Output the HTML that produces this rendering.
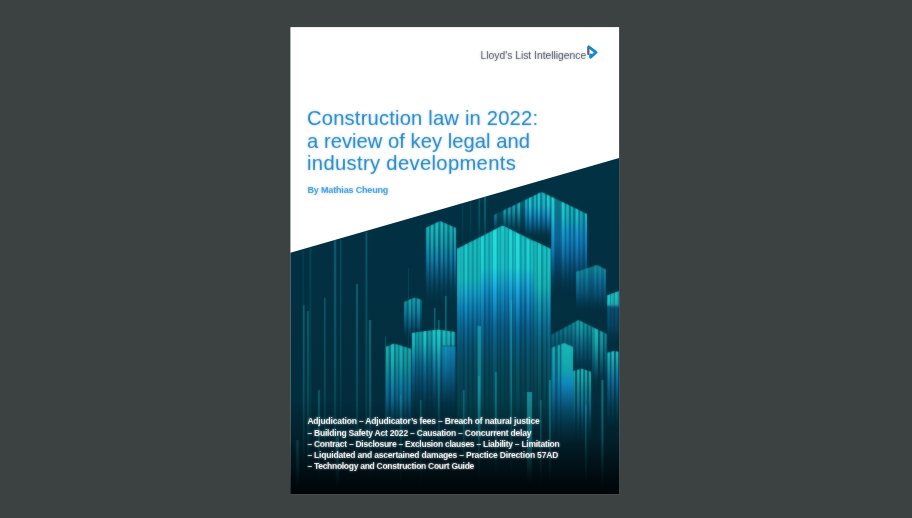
<!DOCTYPE html>
<html lang="en"><head><meta charset="utf-8"><title>Construction law in 2022</title>
<style>
html,body{margin:0;padding:0}
body{width:912px;height:518px;overflow:hidden;background:#3c4141;position:relative;font-family:"Liberation Sans",sans-serif}
.t{position:absolute;white-space:nowrap;line-height:1;margin:0;filter:url(#tsoft)}
.logo{left:480.6px;top:51px;font-size:10.3px;color:#55586a}
.title{left:307px;font-size:20.2px;color:#2f8dc9;font-weight:normal}
.by{left:307.5px;top:186px;font-size:9px;font-weight:bold;color:#469fda;letter-spacing:-0.17px}
.kw{left:307.4px;font-size:8.5px;font-weight:bold;color:#f4f7f8}
</style></head><body>
<svg width="912" height="518" viewBox="0 0 912 518" style="position:absolute;left:0;top:0"><defs><linearGradient id="g1" gradientUnits="userSpaceOnUse" x1="0" y1="158" x2="0" y2="494"><stop offset="0.0" stop-color="#013144"/><stop offset="0.423" stop-color="#022f41"/><stop offset="0.72" stop-color="#032d3d"/><stop offset="0.839" stop-color="#032531"/><stop offset="0.929" stop-color="#021920"/><stop offset="1.0" stop-color="#020b0f"/></linearGradient><clipPath id="dark"><polygon points="290.4,252.8 619.1,158 619.1,494.3 290.4,494.3"/></clipPath><filter id="soft" x="-5%" y="-5%" width="110%" height="110%" color-interpolation-filters="sRGB"><feGaussianBlur in="SourceGraphic" stdDeviation="1" result="b"/><feComposite in="SourceGraphic" in2="b" operator="arithmetic" k1="0" k2="0.6" k3="0.4" k4="0"/></filter><filter id="tsoft" x="-5%" y="-20%" width="110%" height="140%" color-interpolation-filters="sRGB"><feGaussianBlur in="SourceGraphic" stdDeviation="1" result="b"/><feComposite in="SourceGraphic" in2="b" operator="arithmetic" k1="0" k2="0.7" k3="0.5" k4="0"/></filter><linearGradient id="g2" gradientUnits="userSpaceOnUse" x1="0" y1="250" x2="0" y2="480"><stop offset="0" stop-color="#148c98" stop-opacity="0.18"/><stop offset="0.5" stop-color="#148c98" stop-opacity="0.135"/><stop offset="1" stop-color="#148c98" stop-opacity="0"/></linearGradient><linearGradient id="g3" gradientUnits="userSpaceOnUse" x1="0" y1="248" x2="0" y2="485"><stop offset="0" stop-color="#148c98" stop-opacity="0.25"/><stop offset="0.5" stop-color="#148c98" stop-opacity="0.1875"/><stop offset="1" stop-color="#148c98" stop-opacity="0"/></linearGradient><linearGradient id="g4" gradientUnits="userSpaceOnUse" x1="0" y1="240" x2="0" y2="485"><stop offset="0" stop-color="#148c98" stop-opacity="0.55"/><stop offset="0.5" stop-color="#148c98" stop-opacity="0.41250000000000003"/><stop offset="1" stop-color="#148c98" stop-opacity="0"/></linearGradient><linearGradient id="g5" gradientUnits="userSpaceOnUse" x1="0" y1="240" x2="0" y2="470"><stop offset="0" stop-color="#148c98" stop-opacity="0.4"/><stop offset="0.5" stop-color="#148c98" stop-opacity="0.30000000000000004"/><stop offset="1" stop-color="#148c98" stop-opacity="0"/></linearGradient><linearGradient id="g6" gradientUnits="userSpaceOnUse" x1="0" y1="232" x2="0" y2="485"><stop offset="0" stop-color="#148c98" stop-opacity="0.5"/><stop offset="0.5" stop-color="#148c98" stop-opacity="0.375"/><stop offset="1" stop-color="#148c98" stop-opacity="0"/></linearGradient><linearGradient id="g7" gradientUnits="userSpaceOnUse" x1="0" y1="190" x2="0" y2="250"><stop offset="0" stop-color="#148c98" stop-opacity="0.55"/><stop offset="0.5" stop-color="#148c98" stop-opacity="0.41250000000000003"/><stop offset="1" stop-color="#148c98" stop-opacity="0"/></linearGradient><linearGradient id="g8" gradientUnits="userSpaceOnUse" x1="0" y1="190" x2="0" y2="250"><stop offset="0" stop-color="#148c98" stop-opacity="0.6"/><stop offset="0.5" stop-color="#148c98" stop-opacity="0.44999999999999996"/><stop offset="1" stop-color="#148c98" stop-opacity="0"/></linearGradient><linearGradient id="g9" gradientUnits="userSpaceOnUse" x1="0" y1="195" x2="0" y2="250"><stop offset="0" stop-color="#148c98" stop-opacity="0.25"/><stop offset="0.5" stop-color="#148c98" stop-opacity="0.1875"/><stop offset="1" stop-color="#148c98" stop-opacity="0"/></linearGradient><linearGradient id="g10" gradientUnits="userSpaceOnUse" x1="0" y1="198" x2="0" y2="250"><stop offset="0" stop-color="#148c98" stop-opacity="0.25"/><stop offset="0.5" stop-color="#148c98" stop-opacity="0.1875"/><stop offset="1" stop-color="#148c98" stop-opacity="0"/></linearGradient><linearGradient id="g11" gradientUnits="userSpaceOnUse" x1="0" y1="268" x2="0" y2="400"><stop offset="0" stop-color="#148c98" stop-opacity="0.3"/><stop offset="0.5" stop-color="#148c98" stop-opacity="0.22499999999999998"/><stop offset="1" stop-color="#148c98" stop-opacity="0"/></linearGradient><linearGradient id="g12" gradientUnits="userSpaceOnUse" x1="0" y1="305" x2="0" y2="475"><stop offset="0" stop-color="#18969e" stop-opacity="0.5"/><stop offset="0.5" stop-color="#18969e" stop-opacity="0.375"/><stop offset="1" stop-color="#18969e" stop-opacity="0"/></linearGradient><linearGradient id="g13" gradientUnits="userSpaceOnUse" x1="0" y1="311" x2="0" y2="475"><stop offset="0" stop-color="#18969e" stop-opacity="0.45"/><stop offset="0.5" stop-color="#18969e" stop-opacity="0.3375"/><stop offset="1" stop-color="#18969e" stop-opacity="0"/></linearGradient><linearGradient id="g14" gradientUnits="userSpaceOnUse" x1="0" y1="298" x2="0" y2="475"><stop offset="0" stop-color="#18969e" stop-opacity="0.45"/><stop offset="0.5" stop-color="#18969e" stop-opacity="0.3375"/><stop offset="1" stop-color="#18969e" stop-opacity="0"/></linearGradient><linearGradient id="g15" gradientUnits="userSpaceOnUse" x1="0" y1="284" x2="0" y2="475"><stop offset="0" stop-color="#18969e" stop-opacity="0.5"/><stop offset="0.5" stop-color="#18969e" stop-opacity="0.375"/><stop offset="1" stop-color="#18969e" stop-opacity="0"/></linearGradient><linearGradient id="g16" gradientUnits="userSpaceOnUse" x1="0" y1="320" x2="0" y2="485"><stop offset="0" stop-color="#18969e" stop-opacity="0.55"/><stop offset="0.5" stop-color="#18969e" stop-opacity="0.41250000000000003"/><stop offset="1" stop-color="#18969e" stop-opacity="0"/></linearGradient><linearGradient id="g17" gradientUnits="userSpaceOnUse" x1="0" y1="336" x2="0" y2="475"><stop offset="0" stop-color="#18969e" stop-opacity="0.4"/><stop offset="0.5" stop-color="#18969e" stop-opacity="0.30000000000000004"/><stop offset="1" stop-color="#18969e" stop-opacity="0"/></linearGradient><linearGradient id="g18" gradientUnits="userSpaceOnUse" x1="0" y1="390" x2="0" y2="485"><stop offset="0" stop-color="#18969e" stop-opacity="0.5"/><stop offset="0.5" stop-color="#18969e" stop-opacity="0.375"/><stop offset="1" stop-color="#18969e" stop-opacity="0"/></linearGradient><linearGradient id="g19" gradientUnits="userSpaceOnUse" x1="0" y1="437" x2="0" y2="494"><stop offset="0" stop-color="#18969e" stop-opacity="0.4"/><stop offset="0.5" stop-color="#18969e" stop-opacity="0.30000000000000004"/><stop offset="1" stop-color="#18969e" stop-opacity="0"/></linearGradient><linearGradient id="g20" gradientUnits="userSpaceOnUse" x1="0" y1="440" x2="0" y2="494"><stop offset="0" stop-color="#18969e" stop-opacity="0.3"/><stop offset="0.5" stop-color="#18969e" stop-opacity="0.22499999999999998"/><stop offset="1" stop-color="#18969e" stop-opacity="0"/></linearGradient><clipPath id="c21"><polygon points="494,250 494,215 525,200 525,250"/></clipPath><linearGradient id="g22" gradientUnits="userSpaceOnUse" x1="0" y1="200" x2="0" y2="250"><stop offset="0.0" stop-color="#0b6474"/><stop offset="0.24" stop-color="#064a5e"/><stop offset="0.6" stop-color="#02303f"/><stop offset="1.0" stop-color="#02303f" stop-opacity="0"/></linearGradient><linearGradient id="g23" gradientUnits="userSpaceOnUse" x1="0" y1="200" x2="0" y2="250"><stop offset="0.0" stop-color="#1ed0d0"/><stop offset="0.22" stop-color="#19acb8"/><stop offset="0.46" stop-color="#0d6a88" stop-opacity="0.8"/><stop offset="0.76" stop-color="#02303f" stop-opacity="0"/><stop offset="1.0" stop-color="#02303f" stop-opacity="0"/></linearGradient><clipPath id="c24"><polygon points="525,262 525,200 541.5,192 551,196.5 551,262"/></clipPath><linearGradient id="g25" gradientUnits="userSpaceOnUse" x1="0" y1="192" x2="0" y2="262"><stop offset="0.0" stop-color="#0e7c88"/><stop offset="0.229" stop-color="#0b6a8c"/><stop offset="0.429" stop-color="#064868"/><stop offset="0.629" stop-color="#02303f"/><stop offset="1.0" stop-color="#02303f"/></linearGradient><linearGradient id="g26" gradientUnits="userSpaceOnUse" x1="0" y1="192" x2="0" y2="262"><stop offset="0.0" stop-color="#20dcd8"/><stop offset="0.186" stop-color="#1fd4dc"/><stop offset="0.329" stop-color="#1aa0dc"/><stop offset="0.486" stop-color="#0f6fa4" stop-opacity="0.8"/><stop offset="0.657" stop-color="#02303f" stop-opacity="0"/><stop offset="1.0" stop-color="#02303f" stop-opacity="0"/></linearGradient><clipPath id="c27"><polygon points="551,310 551,196.5 587,214 587,310"/></clipPath><linearGradient id="g28" gradientUnits="userSpaceOnUse" x1="0" y1="196.5" x2="0" y2="310"><stop offset="-0.004" stop-color="#0e7884"/><stop offset="0.189" stop-color="#0c6c88"/><stop offset="0.383" stop-color="#0a5f90"/><stop offset="0.604" stop-color="#064468" stop-opacity="0.9"/><stop offset="0.868" stop-color="#02303f" stop-opacity="0"/><stop offset="1.0" stop-color="#02303f" stop-opacity="0"/></linearGradient><linearGradient id="g29" gradientUnits="userSpaceOnUse" x1="0" y1="196.5" x2="0" y2="310"><stop offset="-0.004" stop-color="#20dcd8"/><stop offset="0.181" stop-color="#1ccad4"/><stop offset="0.322" stop-color="#1a9cd8"/><stop offset="0.489" stop-color="#1380bc" stop-opacity="0.9"/><stop offset="0.665" stop-color="#0c5a88" stop-opacity="0.6"/><stop offset="0.877" stop-color="#02303f" stop-opacity="0"/><stop offset="1.0" stop-color="#02303f" stop-opacity="0"/></linearGradient><clipPath id="c30"><polygon points="425.5,320 425.5,228 440,221 456,228 456,320"/></clipPath><linearGradient id="g31" gradientUnits="userSpaceOnUse" x1="0" y1="221" x2="0" y2="320"><stop offset="0.0" stop-color="#0d727e"/><stop offset="0.242" stop-color="#08546c"/><stop offset="0.495" stop-color="#06425c" stop-opacity="0.8"/><stop offset="0.848" stop-color="#02303f" stop-opacity="0"/><stop offset="1.0" stop-color="#02303f" stop-opacity="0"/></linearGradient><linearGradient id="g32" gradientUnits="userSpaceOnUse" x1="0" y1="221" x2="0" y2="320"><stop offset="0.0" stop-color="#1ecccc"/><stop offset="0.232" stop-color="#1ab0bc"/><stop offset="0.394" stop-color="#148cc0" stop-opacity="0.95"/><stop offset="0.616" stop-color="#0c5c88" stop-opacity="0.6"/><stop offset="0.879" stop-color="#02303f" stop-opacity="0"/><stop offset="1.0" stop-color="#02303f" stop-opacity="0"/></linearGradient><clipPath id="c33"><polygon points="404,350 404,302 414.5,297.5 422,300 422,350"/></clipPath><linearGradient id="g34" gradientUnits="userSpaceOnUse" x1="0" y1="297.5" x2="0" y2="350"><stop offset="-0.01" stop-color="#0c6a7a"/><stop offset="0.333" stop-color="#08506c" stop-opacity="0.9"/><stop offset="0.771" stop-color="#02303f" stop-opacity="0"/><stop offset="1.0" stop-color="#02303f" stop-opacity="0"/></linearGradient><linearGradient id="g35" gradientUnits="userSpaceOnUse" x1="0" y1="297.5" x2="0" y2="350"><stop offset="-0.01" stop-color="#1ec8c8"/><stop offset="0.276" stop-color="#18a4bc"/><stop offset="0.543" stop-color="#0f74a4" stop-opacity="0.8"/><stop offset="0.848" stop-color="#02303f" stop-opacity="0"/><stop offset="1.0" stop-color="#02303f" stop-opacity="0"/></linearGradient><clipPath id="c36"><polygon points="576,320 576,272 597,265 606,269.5 606,320"/></clipPath><linearGradient id="g37" gradientUnits="userSpaceOnUse" x1="0" y1="265" x2="0" y2="320"><stop offset="0.0" stop-color="#0e7a88"/><stop offset="0.273" stop-color="#0a5a7c"/><stop offset="0.564" stop-color="#074868" stop-opacity="0.8"/><stop offset="0.891" stop-color="#02303f" stop-opacity="0"/><stop offset="1.0" stop-color="#02303f" stop-opacity="0"/></linearGradient><linearGradient id="g38" gradientUnits="userSpaceOnUse" x1="0" y1="265" x2="0" y2="320"><stop offset="0.0" stop-color="#18a8b0"/><stop offset="0.236" stop-color="#1490b0"/><stop offset="0.491" stop-color="#0f6a9c" stop-opacity="0.8"/><stop offset="0.855" stop-color="#02303f" stop-opacity="0"/><stop offset="1.0" stop-color="#02303f" stop-opacity="0"/></linearGradient><clipPath id="c39"><polygon points="607,345 607,295.5 619,291 620,291 620,345"/></clipPath><linearGradient id="g40" gradientUnits="userSpaceOnUse" x1="0" y1="291" x2="0" y2="345"><stop offset="0.0" stop-color="#12909c"/><stop offset="0.259" stop-color="#0f8090"/><stop offset="0.315" stop-color="#06405c"/><stop offset="0.722" stop-color="#053a55" stop-opacity="0.7"/><stop offset="1.0" stop-color="#02303f" stop-opacity="0"/></linearGradient><linearGradient id="g41" gradientUnits="userSpaceOnUse" x1="0" y1="291" x2="0" y2="345"><stop offset="0.0" stop-color="#20dcd8"/><stop offset="0.241" stop-color="#1cc8cc"/><stop offset="0.296" stop-color="#0a5a7c"/><stop offset="0.63" stop-color="#0a5578" stop-opacity="0.6"/><stop offset="1.0" stop-color="#02303f" stop-opacity="0"/></linearGradient><clipPath id="c42"><polygon points="551,385 551,335 578.5,320 607,334 607,385"/></clipPath><linearGradient id="g43" gradientUnits="userSpaceOnUse" x1="0" y1="320" x2="0" y2="385"><stop offset="0.0" stop-color="#0b6878"/><stop offset="0.215" stop-color="#075068"/><stop offset="0.431" stop-color="#05425c" stop-opacity="0.9"/><stop offset="0.692" stop-color="#043850" stop-opacity="0.5"/><stop offset="1.0" stop-color="#02303f" stop-opacity="0"/></linearGradient><linearGradient id="g44" gradientUnits="userSpaceOnUse" x1="0" y1="320" x2="0" y2="385"><stop offset="0.0" stop-color="#1bbcbc"/><stop offset="0.185" stop-color="#17a4ac"/><stop offset="0.369" stop-color="#0f7a94" stop-opacity="0.9"/><stop offset="0.554" stop-color="#0b6080" stop-opacity="0.6"/><stop offset="0.8" stop-color="#02303f" stop-opacity="0"/><stop offset="1.0" stop-color="#02303f" stop-opacity="0"/></linearGradient><clipPath id="c45"><polygon points="591,400 591,326.6 607,334 607,400"/></clipPath><linearGradient id="g46" gradientUnits="userSpaceOnUse" x1="0" y1="326.6" x2="0" y2="400"><stop offset="-0.008" stop-color="#0b6878" stop-opacity="0"/><stop offset="1.0" stop-color="#02303f" stop-opacity="0"/></linearGradient><linearGradient id="g47" gradientUnits="userSpaceOnUse" x1="0" y1="326.6" x2="0" y2="400"><stop offset="-0.008" stop-color="#1cc0bc"/><stop offset="0.21" stop-color="#18aeae"/><stop offset="0.401" stop-color="#128c98" stop-opacity="0.9"/><stop offset="0.591" stop-color="#0c6a80" stop-opacity="0.6"/><stop offset="0.837" stop-color="#02303f" stop-opacity="0"/><stop offset="1.0" stop-color="#02303f" stop-opacity="0"/></linearGradient><clipPath id="c48"><polygon points="457,450 457,249 502.6,225.6 551,249 551,450"/></clipPath><linearGradient id="g49" gradientUnits="userSpaceOnUse" x1="0" y1="225.6" x2="0" y2="450"><stop offset="-0.003" stop-color="#0f949c"/><stop offset="0.265" stop-color="#0d8890"/><stop offset="0.354" stop-color="#09647c"/><stop offset="0.452" stop-color="#074e68"/><stop offset="0.532" stop-color="#054256"/><stop offset="0.621" stop-color="#043a4c"/><stop offset="0.71" stop-color="#033444"/><stop offset="0.799" stop-color="#03343f" stop-opacity="0.8"/><stop offset="0.933" stop-color="#02303f" stop-opacity="0"/><stop offset="1.0" stop-color="#02303f" stop-opacity="0"/></linearGradient><linearGradient id="g50" gradientUnits="userSpaceOnUse" x1="0" y1="225.6" x2="0" y2="450"><stop offset="-0.003" stop-color="#20dcd8"/><stop offset="0.198" stop-color="#1ed4d0"/><stop offset="0.278" stop-color="#1cc4c8"/><stop offset="0.354" stop-color="#17a4c4"/><stop offset="0.452" stop-color="#107ea4"/><stop offset="0.532" stop-color="#0d6a88"/><stop offset="0.621" stop-color="#0b6070"/><stop offset="0.71" stop-color="#095462"/><stop offset="0.799" stop-color="#084a58" stop-opacity="0.8"/><stop offset="0.933" stop-color="#02303f" stop-opacity="0"/><stop offset="1.0" stop-color="#02303f" stop-opacity="0"/></linearGradient><clipPath id="c51"><polygon points="457,450 457,249 480.5,237.3 480.5,450"/></clipPath><linearGradient id="g52" gradientUnits="userSpaceOnUse" x1="0" y1="237.3" x2="0" y2="450"><stop offset="-0.058" stop-color="#0f949c"/><stop offset="0.201" stop-color="#0e8c98"/><stop offset="0.267" stop-color="#0b78a0"/><stop offset="0.328" stop-color="#086090"/><stop offset="0.422" stop-color="#064a6c"/><stop offset="0.506" stop-color="#043e56"/><stop offset="0.6" stop-color="#04384a"/><stop offset="0.694" stop-color="#033444"/><stop offset="0.788" stop-color="#03343f" stop-opacity="0.8"/><stop offset="0.929" stop-color="#02303f" stop-opacity="0"/><stop offset="1.0" stop-color="#02303f" stop-opacity="0"/></linearGradient><linearGradient id="g53" gradientUnits="userSpaceOnUse" x1="0" y1="237.3" x2="0" y2="450"><stop offset="-0.058" stop-color="#20dcd8"/><stop offset="0.191" stop-color="#1ed4d0"/><stop offset="0.257" stop-color="#1cbcd8"/><stop offset="0.318" stop-color="#16a0d0"/><stop offset="0.422" stop-color="#0e76a8"/><stop offset="0.506" stop-color="#0b6288"/><stop offset="0.6" stop-color="#09566e"/><stop offset="0.694" stop-color="#084e60"/><stop offset="0.788" stop-color="#074858" stop-opacity="0.8"/><stop offset="0.929" stop-color="#02303f" stop-opacity="0"/><stop offset="1.0" stop-color="#02303f" stop-opacity="0"/></linearGradient><clipPath id="c54"><polygon points="480.5,450 480.5,237.3 502.6,225.6 534,242 534,450"/></clipPath><linearGradient id="g55" gradientUnits="userSpaceOnUse" x1="0" y1="225.6" x2="0" y2="450"><stop offset="-0.003" stop-color="#0f949c"/><stop offset="0.189" stop-color="#0e90a0"/><stop offset="0.251" stop-color="#0c7aa0"/><stop offset="0.305" stop-color="#096494"/><stop offset="0.363" stop-color="#075280"/><stop offset="0.452" stop-color="#05466a"/><stop offset="0.532" stop-color="#043e56"/><stop offset="0.621" stop-color="#04384a"/><stop offset="0.71" stop-color="#033444"/><stop offset="0.799" stop-color="#03343f" stop-opacity="0.8"/><stop offset="0.933" stop-color="#02303f" stop-opacity="0"/><stop offset="1.0" stop-color="#02303f" stop-opacity="0"/></linearGradient><linearGradient id="g56" gradientUnits="userSpaceOnUse" x1="0" y1="225.6" x2="0" y2="450"><stop offset="-0.003" stop-color="#22e4e0"/><stop offset="0.18" stop-color="#20dcdc"/><stop offset="0.242" stop-color="#1cc0e0"/><stop offset="0.296" stop-color="#18a8dc"/><stop offset="0.363" stop-color="#1290c4"/><stop offset="0.452" stop-color="#0c6a98"/><stop offset="0.532" stop-color="#0a5e80"/><stop offset="0.621" stop-color="#085468"/><stop offset="0.71" stop-color="#074c5c"/><stop offset="0.799" stop-color="#064656" stop-opacity="0.8"/><stop offset="0.933" stop-color="#02303f" stop-opacity="0"/><stop offset="1.0" stop-color="#02303f" stop-opacity="0"/></linearGradient><clipPath id="c57"><polygon points="411.5,420 411.5,333 437.5,329.5 455.5,332 455.5,420"/></clipPath><linearGradient id="g58" gradientUnits="userSpaceOnUse" x1="0" y1="329.5" x2="0" y2="420"><stop offset="-0.006" stop-color="#0c7884"/><stop offset="0.171" stop-color="#0a6478"/><stop offset="0.293" stop-color="#08546c"/><stop offset="0.403" stop-color="#064860"/><stop offset="0.536" stop-color="#054058"/><stop offset="0.669" stop-color="#04384e" stop-opacity="0.8"/><stop offset="0.823" stop-color="#02303f" stop-opacity="0.4"/><stop offset="1.0" stop-color="#02303f" stop-opacity="0"/></linearGradient><linearGradient id="g59" gradientUnits="userSpaceOnUse" x1="0" y1="329.5" x2="0" y2="420"><stop offset="-0.006" stop-color="#20dcd8"/><stop offset="0.171" stop-color="#1cc4c8"/><stop offset="0.293" stop-color="#1498b8"/><stop offset="0.403" stop-color="#0e78a4"/><stop offset="0.536" stop-color="#0a5c84"/><stop offset="0.669" stop-color="#084a6c" stop-opacity="0.9"/><stop offset="0.823" stop-color="#053c56" stop-opacity="0.5"/><stop offset="1.0" stop-color="#02303f" stop-opacity="0"/></linearGradient><linearGradient id="g60" gradientUnits="userSpaceOnUse" x1="0" y1="346" x2="0" y2="410"><stop offset="0.0" stop-color="#0f84b2" stop-opacity="0.9"/><stop offset="0.219" stop-color="#0c70a0" stop-opacity="0.85"/><stop offset="0.5" stop-color="#09587e" stop-opacity="0.7"/><stop offset="0.766" stop-color="#064060" stop-opacity="0.4"/><stop offset="1.0" stop-color="#02303f" stop-opacity="0"/></linearGradient><clipPath id="c61"><polygon points="385.5,435 385.5,347 394,343.5 411.5,349 411.5,435"/></clipPath><linearGradient id="g62" gradientUnits="userSpaceOnUse" x1="0" y1="343.5" x2="0" y2="435"><stop offset="-0.005" stop-color="#0c7480"/><stop offset="0.18" stop-color="#0a6474"/><stop offset="0.344" stop-color="#08566c"/><stop offset="0.486" stop-color="#074c68"/><stop offset="0.617" stop-color="#05405a"/><stop offset="0.749" stop-color="#043850" stop-opacity="0.7"/><stop offset="0.945" stop-color="#02303f" stop-opacity="0"/><stop offset="1.0" stop-color="#02303f" stop-opacity="0"/></linearGradient><linearGradient id="g63" gradientUnits="userSpaceOnUse" x1="0" y1="343.5" x2="0" y2="435"><stop offset="-0.005" stop-color="#1cc4c4"/><stop offset="0.18" stop-color="#1ab4b8"/><stop offset="0.344" stop-color="#1498ac"/><stop offset="0.486" stop-color="#1080a8"/><stop offset="0.617" stop-color="#0c6a90"/><stop offset="0.749" stop-color="#08506c" stop-opacity="0.8"/><stop offset="0.945" stop-color="#02303f" stop-opacity="0"/><stop offset="1.0" stop-color="#02303f" stop-opacity="0"/></linearGradient><clipPath id="c64"><polygon points="551,445 551,348 564,343 573,347 573,445"/></clipPath><linearGradient id="g65" gradientUnits="userSpaceOnUse" x1="0" y1="343" x2="0" y2="445"><stop offset="0.0" stop-color="#0a5a78"/><stop offset="0.363" stop-color="#0a5a80"/><stop offset="0.559" stop-color="#07486a"/><stop offset="0.755" stop-color="#053c54" stop-opacity="0.7"/><stop offset="1.0" stop-color="#02303f" stop-opacity="0"/></linearGradient><linearGradient id="g66" gradientUnits="userSpaceOnUse" x1="0" y1="343" x2="0" y2="445"><stop offset="0.0" stop-color="#1cc4c0"/><stop offset="0.216" stop-color="#18b0b0"/><stop offset="0.343" stop-color="#1498b4"/><stop offset="0.461" stop-color="#0f7ca8"/><stop offset="0.608" stop-color="#0b6088"/><stop offset="0.755" stop-color="#084c6a" stop-opacity="0.7"/><stop offset="1.0" stop-color="#02303f" stop-opacity="0"/></linearGradient><linearGradient id="g67" gradientUnits="userSpaceOnUse" x1="0" y1="343" x2="0" y2="445"><stop offset="0.0" stop-color="#18b8b8"/><stop offset="0.216" stop-color="#14a8ac"/><stop offset="0.314" stop-color="#1298b4"/><stop offset="0.392" stop-color="#1088c0"/><stop offset="0.51" stop-color="#0c6a98"/><stop offset="0.657" stop-color="#08506c" stop-opacity="0.9"/><stop offset="0.804" stop-color="#053e56" stop-opacity="0.6"/><stop offset="1.0" stop-color="#02303f" stop-opacity="0"/></linearGradient><clipPath id="c68"><polygon points="551,445 551,348 564,343 573,347 573,445"/></clipPath><clipPath id="c69"><polygon points="573,445 573,371 582,368.5 591.5,372 591.5,445"/></clipPath><linearGradient id="g70" gradientUnits="userSpaceOnUse" x1="0" y1="368.5" x2="0" y2="445"><stop offset="-0.007" stop-color="#074a60"/><stop offset="0.281" stop-color="#053e54"/><stop offset="0.542" stop-color="#04364a" stop-opacity="0.8"/><stop offset="1.0" stop-color="#02303f" stop-opacity="0"/></linearGradient><linearGradient id="g71" gradientUnits="userSpaceOnUse" x1="0" y1="368.5" x2="0" y2="445"><stop offset="-0.007" stop-color="#1cc8c4"/><stop offset="0.15" stop-color="#18b4b0"/><stop offset="0.307" stop-color="#1090a0"/><stop offset="0.542" stop-color="#0c7090" stop-opacity="0.9"/><stop offset="0.739" stop-color="#084e68" stop-opacity="0.6"/><stop offset="1.0" stop-color="#02303f" stop-opacity="0"/></linearGradient><clipPath id="c72"><polygon points="606.5,430 606.5,353 614,351 620,352 620,430"/></clipPath><linearGradient id="g73" gradientUnits="userSpaceOnUse" x1="0" y1="351" x2="0" y2="430"><stop offset="0.0" stop-color="#07506a"/><stop offset="0.304" stop-color="#054060"/><stop offset="0.62" stop-color="#04364a" stop-opacity="0.8"/><stop offset="1.0" stop-color="#02303f" stop-opacity="0"/></linearGradient><linearGradient id="g74" gradientUnits="userSpaceOnUse" x1="0" y1="351" x2="0" y2="430"><stop offset="0.0" stop-color="#20d8d4"/><stop offset="0.139" stop-color="#18b4b4"/><stop offset="0.304" stop-color="#1088a8"/><stop offset="0.443" stop-color="#0c6a98"/><stop offset="0.62" stop-color="#085070" stop-opacity="0.8"/><stop offset="0.81" stop-color="#064258" stop-opacity="0.5"/><stop offset="1.0" stop-color="#02303f" stop-opacity="0"/></linearGradient><linearGradient id="g75" gradientUnits="userSpaceOnUse" x1="0" y1="376" x2="0" y2="485"><stop offset="0" stop-color="#1fb8c0" stop-opacity="0.45"/><stop offset="0.5" stop-color="#1fb8c0" stop-opacity="0.3375"/><stop offset="1" stop-color="#1fb8c0" stop-opacity="0"/></linearGradient><linearGradient id="g76" gradientUnits="userSpaceOnUse" x1="0" y1="300" x2="0" y2="475"><stop offset="0" stop-color="#1fb8c0" stop-opacity="0.6"/><stop offset="0.5" stop-color="#1fb8c0" stop-opacity="0.44999999999999996"/><stop offset="1" stop-color="#1fb8c0" stop-opacity="0"/></linearGradient><linearGradient id="g77" gradientUnits="userSpaceOnUse" x1="0" y1="326" x2="0" y2="450"><stop offset="0" stop-color="#1fb8c0" stop-opacity="0.65"/><stop offset="0.5" stop-color="#1fb8c0" stop-opacity="0.48750000000000004"/><stop offset="1" stop-color="#1fb8c0" stop-opacity="0"/></linearGradient><linearGradient id="g78" gradientUnits="userSpaceOnUse" x1="0" y1="392" x2="0" y2="485"><stop offset="0" stop-color="#1fb8c0" stop-opacity="0.65"/><stop offset="0.5" stop-color="#1fb8c0" stop-opacity="0.48750000000000004"/><stop offset="1" stop-color="#1fb8c0" stop-opacity="0"/></linearGradient><linearGradient id="g79" gradientUnits="userSpaceOnUse" x1="0" y1="372" x2="0" y2="475"><stop offset="0" stop-color="#1fb8c0" stop-opacity="0.5"/><stop offset="0.5" stop-color="#1fb8c0" stop-opacity="0.375"/><stop offset="1" stop-color="#1fb8c0" stop-opacity="0"/></linearGradient><linearGradient id="g80" gradientUnits="userSpaceOnUse" x1="0" y1="380" x2="0" y2="485"><stop offset="0" stop-color="#1fb8c0" stop-opacity="0.6"/><stop offset="0.5" stop-color="#1fb8c0" stop-opacity="0.44999999999999996"/><stop offset="1" stop-color="#1fb8c0" stop-opacity="0"/></linearGradient><linearGradient id="g81" gradientUnits="userSpaceOnUse" x1="0" y1="380" x2="0" y2="494"><stop offset="0" stop-color="#1fb8c0" stop-opacity="0.6"/><stop offset="0.5" stop-color="#1fb8c0" stop-opacity="0.44999999999999996"/><stop offset="1" stop-color="#1fb8c0" stop-opacity="0"/></linearGradient><linearGradient id="g82" gradientUnits="userSpaceOnUse" x1="0" y1="390" x2="0" y2="475"><stop offset="0" stop-color="#1fb8c0" stop-opacity="0.45"/><stop offset="0.5" stop-color="#1fb8c0" stop-opacity="0.3375"/><stop offset="1" stop-color="#1fb8c0" stop-opacity="0"/></linearGradient><linearGradient id="g83" gradientUnits="userSpaceOnUse" x1="0" y1="320" x2="0" y2="475"><stop offset="0" stop-color="#1fb8c0" stop-opacity="0.45"/><stop offset="0.5" stop-color="#1fb8c0" stop-opacity="0.3375"/><stop offset="1" stop-color="#1fb8c0" stop-opacity="0"/></linearGradient><linearGradient id="g84" gradientUnits="userSpaceOnUse" x1="0" y1="296" x2="0" y2="400"><stop offset="0" stop-color="#1fb8c0" stop-opacity="0.5"/><stop offset="0.5" stop-color="#1fb8c0" stop-opacity="0.375"/><stop offset="1" stop-color="#1fb8c0" stop-opacity="0"/></linearGradient><linearGradient id="g85" gradientUnits="userSpaceOnUse" x1="0" y1="308" x2="0" y2="400"><stop offset="0" stop-color="#1fb8c0" stop-opacity="0.5"/><stop offset="0.5" stop-color="#1fb8c0" stop-opacity="0.375"/><stop offset="1" stop-color="#1fb8c0" stop-opacity="0"/></linearGradient><linearGradient id="g86" gradientUnits="userSpaceOnUse" x1="0" y1="400" x2="0" y2="490"><stop offset="0" stop-color="#1fb8c0" stop-opacity="0.4"/><stop offset="0.5" stop-color="#1fb8c0" stop-opacity="0.30000000000000004"/><stop offset="1" stop-color="#1fb8c0" stop-opacity="0"/></linearGradient><linearGradient id="g87" gradientUnits="userSpaceOnUse" x1="0" y1="405" x2="0" y2="490"><stop offset="0" stop-color="#1fb8c0" stop-opacity="0.4"/><stop offset="0.5" stop-color="#1fb8c0" stop-opacity="0.30000000000000004"/><stop offset="1" stop-color="#1fb8c0" stop-opacity="0"/></linearGradient><linearGradient id="g88" gradientUnits="userSpaceOnUse" x1="0" y1="400" x2="0" y2="490"><stop offset="0" stop-color="#1fb8c0" stop-opacity="0.35"/><stop offset="0.5" stop-color="#1fb8c0" stop-opacity="0.26249999999999996"/><stop offset="1" stop-color="#1fb8c0" stop-opacity="0"/></linearGradient><linearGradient id="g89" gradientUnits="userSpaceOnUse" x1="0" y1="395" x2="0" y2="490"><stop offset="0" stop-color="#1fb8c0" stop-opacity="0.35"/><stop offset="0.5" stop-color="#1fb8c0" stop-opacity="0.26249999999999996"/><stop offset="1" stop-color="#1fb8c0" stop-opacity="0"/></linearGradient><linearGradient id="g90" gradientUnits="userSpaceOnUse" x1="0" y1="400" x2="0" y2="494"><stop offset="0.0" stop-color="#01060a" stop-opacity="0"/><stop offset="0.426" stop-color="#01060a" stop-opacity="0.15"/><stop offset="0.723" stop-color="#01060a" stop-opacity="0.45"/><stop offset="1.0" stop-color="#010608" stop-opacity="0.9"/></linearGradient></defs><rect x="290.4" y="27.1" width="328.7" height="467.2" fill="#fff"/>
<g clip-path="url(#dark)">
<rect x="290" y="150" width="330" height="345" fill="url(#g1)"/>
<g filter="url(#soft)">
<rect x="302.5" y="250.0" width="1.6" height="230.0" fill="url(#g2)"/>
<rect x="309.5" y="248.0" width="1.8" height="237.0" fill="url(#g3)"/>
<rect x="334.0" y="240.0" width="2.2" height="245.0" fill="url(#g4)"/>
<rect x="340.0" y="240.0" width="1.4" height="230.0" fill="url(#g5)"/>
<rect x="365.5" y="232.0" width="1.8" height="253.0" fill="url(#g6)"/>
<rect x="478.5" y="190.0" width="1.6" height="60.0" fill="url(#g7)"/>
<rect x="484.0" y="190.0" width="2.0" height="60.0" fill="url(#g8)"/>
<rect x="470.0" y="195.0" width="1.2" height="55.0" fill="url(#g9)"/>
<rect x="462.0" y="198.0" width="1.2" height="52.0" fill="url(#g10)"/>
<rect x="408.0" y="268.0" width="1.0" height="132.0" fill="url(#g11)"/>
<rect x="303.0" y="305.0" width="1.6" height="170.0" fill="url(#g12)"/>
<rect x="307.0" y="311.0" width="2.0" height="164.0" fill="url(#g13)"/>
<rect x="324.0" y="298.0" width="1.6" height="177.0" fill="url(#g14)"/>
<rect x="356.0" y="284.0" width="2.0" height="191.0" fill="url(#g15)"/>
<rect x="369.0" y="320.0" width="2.2" height="165.0" fill="url(#g16)"/>
<rect x="385.0" y="336.0" width="1.2" height="139.0" fill="url(#g17)"/>
<rect x="318.0" y="390.0" width="1.8" height="95.0" fill="url(#g18)"/>
<rect x="336.0" y="437.0" width="3.0" height="57.0" fill="url(#g19)"/>
<rect x="296.0" y="440.0" width="3.0" height="54.0" fill="url(#g20)"/>
<g clip-path="url(#c21)"><rect x="494" y="200" width="31" height="50" fill="url(#g22)"/><rect x="494.2" y="200" width="2.5" height="50" fill="url(#g23)" opacity="0.84"/><rect x="503.5" y="200" width="2.3" height="50" fill="url(#g23)" opacity="1.00"/><rect x="507.8" y="200" width="2.8" height="50" fill="url(#g23)" opacity="0.86"/><rect x="512.4" y="200" width="2.6" height="50" fill="url(#g23)" opacity="0.81"/><rect x="517.4" y="200" width="2.7" height="50" fill="url(#g23)" opacity="0.90"/></g>
<g clip-path="url(#c24)"><rect x="525" y="192" width="26" height="70" fill="url(#g25)"/><rect x="525.2" y="192" width="2.1" height="70" fill="url(#g26)" opacity="0.66"/><rect x="529.0" y="192" width="2.4" height="70" fill="url(#g26)" opacity="0.92"/><rect x="533.8" y="192" width="2.2" height="70" fill="url(#g26)" opacity="0.71"/><rect x="537.8" y="192" width="2.1" height="70" fill="url(#g26)" opacity="0.97"/><rect x="542.3" y="192" width="2.8" height="70" fill="url(#g26)" opacity="0.68"/><rect x="547.0" y="192" width="2.6" height="70" fill="url(#g26)" opacity="0.94"/></g>
<g clip-path="url(#c27)"><rect x="551" y="196.5" width="36" height="113.5" fill="url(#g28)"/><rect x="551.6" y="196.5" width="2.7" height="113.5" fill="url(#g29)" opacity="0.98"/><rect x="561.7" y="196.5" width="2.9" height="113.5" fill="url(#g29)" opacity="0.96"/><rect x="566.3" y="196.5" width="2.5" height="113.5" fill="url(#g29)" opacity="0.82"/><rect x="571.0" y="196.5" width="2.0" height="113.5" fill="url(#g29)" opacity="0.71"/><rect x="575.5" y="196.5" width="2.8" height="113.5" fill="url(#g29)" opacity="0.92"/><rect x="580.0" y="196.5" width="2.6" height="113.5" fill="url(#g29)" opacity="0.60"/><rect x="585.1" y="196.5" width="2.2" height="113.5" fill="url(#g29)" opacity="0.99"/></g>
<g clip-path="url(#c30)"><rect x="425.5" y="221" width="30.5" height="99" fill="url(#g31)"/><rect x="426.3" y="221" width="2.8" height="99" fill="url(#g32)" opacity="0.82"/><rect x="430.7" y="221" width="2.7" height="99" fill="url(#g32)" opacity="0.94"/><rect x="435.4" y="221" width="2.8" height="99" fill="url(#g32)" opacity="0.95"/><rect x="440.5" y="221" width="2.4" height="99" fill="url(#g32)" opacity="0.92"/><rect x="444.7" y="221" width="2.6" height="99" fill="url(#g32)" opacity="0.82"/><rect x="449.6" y="221" width="2.7" height="99" fill="url(#g32)" opacity="0.83"/><rect x="454.0" y="221" width="2.8" height="99" fill="url(#g32)" opacity="0.86"/></g>
<g clip-path="url(#c33)"><rect x="404" y="297.5" width="18" height="52.5" fill="url(#g34)"/><rect x="404.3" y="297.5" width="2.2" height="52.5" fill="url(#g35)" opacity="0.62"/><rect x="408.6" y="297.5" width="2.4" height="52.5" fill="url(#g35)" opacity="0.75"/><rect x="412.6" y="297.5" width="2.4" height="52.5" fill="url(#g35)" opacity="0.63"/><rect x="417.1" y="297.5" width="2.8" height="52.5" fill="url(#g35)" opacity="0.67"/></g>
<g clip-path="url(#c36)"><rect x="576" y="265" width="30" height="55" fill="url(#g37)"/><rect x="576.2" y="265" width="3.0" height="55" fill="url(#g38)" opacity="0.68"/><rect x="580.9" y="265" width="2.2" height="55" fill="url(#g38)" opacity="0.48"/><rect x="585.4" y="265" width="2.5" height="55" fill="url(#g38)" opacity="0.60"/><rect x="594.3" y="265" width="2.0" height="55" fill="url(#g38)" opacity="0.56"/><rect x="598.8" y="265" width="2.4" height="55" fill="url(#g38)" opacity="0.50"/><rect x="603.8" y="265" width="2.1" height="55" fill="url(#g38)" opacity="0.55"/></g>
<g clip-path="url(#c39)"><rect x="607" y="291" width="13" height="54" fill="url(#g40)"/><rect x="607.5" y="291" width="2.4" height="54" fill="url(#g41)" opacity="0.95"/><rect x="611.1" y="291" width="2.5" height="54" fill="url(#g41)" opacity="0.63"/><rect x="615.0" y="291" width="2.6" height="54" fill="url(#g41)" opacity="0.75"/><rect x="619.1" y="291" width="2.5" height="54" fill="url(#g41)" opacity="0.66"/></g>
<g clip-path="url(#c42)"><rect x="551" y="320" width="56" height="65" fill="url(#g43)"/><rect x="552.0" y="320" width="2.0" height="65" fill="url(#g44)" opacity="0.35"/><rect x="555.9" y="320" width="2.2" height="65" fill="url(#g44)" opacity="0.40"/><rect x="560.0" y="320" width="2.0" height="65" fill="url(#g44)" opacity="0.35"/><rect x="564.4" y="320" width="2.2" height="65" fill="url(#g44)" opacity="0.45"/><rect x="568.5" y="320" width="2.0" height="65" fill="url(#g44)" opacity="0.40"/><rect x="572.4" y="320" width="2.2" height="65" fill="url(#g44)" opacity="0.55"/><rect x="576.3" y="320" width="2.4" height="65" fill="url(#g44)" opacity="0.80"/><rect x="580.3" y="320" width="2.4" height="65" fill="url(#g44)" opacity="0.90"/><rect x="584.4" y="320" width="2.2" height="65" fill="url(#g44)" opacity="0.70"/><rect x="588.4" y="320" width="2.2" height="65" fill="url(#g44)" opacity="0.60"/></g>
<g clip-path="url(#c45)"><rect x="591" y="326.6" width="16" height="73.39999999999998" fill="url(#g46)"/><rect x="592.0" y="326.6" width="2.0" height="73.39999999999998" fill="url(#g47)" opacity="0.60"/><rect x="594.4" y="326.6" width="3.6" height="73.39999999999998" fill="url(#g47)" opacity="1.00"/><rect x="600.2" y="326.6" width="2.6" height="73.39999999999998" fill="url(#g47)" opacity="0.85"/><rect x="604.5" y="326.6" width="2.0" height="73.39999999999998" fill="url(#g47)" opacity="0.60"/></g>
<g clip-path="url(#c48)"><rect x="457" y="225.6" width="94" height="224.4" fill="url(#g49)"/><rect x="457.3" y="225.6" width="2.6" height="224.4" fill="url(#g50)" opacity="0.70"/><rect x="460.5" y="225.6" width="2.6" height="224.4" fill="url(#g50)" opacity="0.60"/><rect x="464.7" y="225.6" width="2.6" height="224.4" fill="url(#g50)" opacity="0.90"/><rect x="469.1" y="225.6" width="2.6" height="224.4" fill="url(#g50)" opacity="0.60"/><rect x="473.7" y="225.6" width="2.6" height="224.4" fill="url(#g50)" opacity="0.60"/><rect x="477.9" y="225.6" width="2.2" height="224.4" fill="url(#g50)" opacity="0.50"/><rect x="534.3" y="225.6" width="2.4" height="224.4" fill="url(#g50)" opacity="0.55"/><rect x="538.0" y="225.6" width="3.0" height="224.4" fill="url(#g50)" opacity="0.85"/><rect x="543.3" y="225.6" width="2.6" height="224.4" fill="url(#g50)" opacity="0.70"/><rect x="547.5" y="225.6" width="2.6" height="224.4" fill="url(#g50)" opacity="0.80"/></g>
<g clip-path="url(#c51)"><rect x="457" y="237.3" width="23.5" height="212.7" fill="url(#g52)"/><rect x="457.3" y="237.3" width="2.6" height="212.7" fill="url(#g53)" opacity="0.70"/><rect x="460.5" y="237.3" width="2.6" height="212.7" fill="url(#g53)" opacity="0.60"/><rect x="464.7" y="237.3" width="2.6" height="212.7" fill="url(#g53)" opacity="0.90"/><rect x="469.1" y="237.3" width="2.6" height="212.7" fill="url(#g53)" opacity="0.60"/><rect x="473.7" y="237.3" width="2.6" height="212.7" fill="url(#g53)" opacity="0.60"/><rect x="477.9" y="237.3" width="2.2" height="212.7" fill="url(#g53)" opacity="0.50"/></g>
<g clip-path="url(#c54)"><rect x="480.5" y="225.6" width="53.5" height="224.4" fill="url(#g55)"/><rect x="480.8" y="225.6" width="3.0" height="224.4" fill="url(#g56)" opacity="0.90"/><rect x="485.7" y="225.6" width="2.6" height="224.4" fill="url(#g56)" opacity="0.60"/><rect x="489.9" y="225.6" width="2.2" height="224.4" fill="url(#g56)" opacity="0.50"/><rect x="492.9" y="225.6" width="3.8" height="224.4" fill="url(#g56)" opacity="1.00"/><rect x="497.9" y="225.6" width="2.2" height="224.4" fill="url(#g56)" opacity="0.50"/><rect x="501.1" y="225.6" width="3.0" height="224.4" fill="url(#g56)" opacity="0.65"/><rect x="505.3" y="225.6" width="2.4" height="224.4" fill="url(#g56)" opacity="0.50"/><rect x="509.1" y="225.6" width="3.0" height="224.4" fill="url(#g56)" opacity="0.90"/><rect x="513.2" y="225.6" width="2.2" height="224.4" fill="url(#g56)" opacity="0.50"/><rect x="516.0" y="225.6" width="3.6" height="224.4" fill="url(#g56)" opacity="1.00"/><rect x="521.7" y="225.6" width="2.6" height="224.4" fill="url(#g56)" opacity="0.60"/><rect x="526.5" y="225.6" width="3.0" height="224.4" fill="url(#g56)" opacity="0.90"/><rect x="530.8" y="225.6" width="2.4" height="224.4" fill="url(#g56)" opacity="0.55"/></g>
<g clip-path="url(#c57)"><rect x="411.5" y="329.5" width="44.0" height="90.5" fill="url(#g58)"/><rect x="412.2" y="329.5" width="2.6" height="90.5" fill="url(#g59)" opacity="0.90"/><rect x="416.2" y="329.5" width="2.0" height="90.5" fill="url(#g59)" opacity="0.50"/><rect x="419.4" y="329.5" width="2.2" height="90.5" fill="url(#g59)" opacity="0.55"/><rect x="423.4" y="329.5" width="2.8" height="90.5" fill="url(#g59)" opacity="0.95"/><rect x="428.3" y="329.5" width="2.4" height="90.5" fill="url(#g59)" opacity="0.55"/><rect x="432.6" y="329.5" width="2.8" height="90.5" fill="url(#g59)" opacity="0.90"/><rect x="437.2" y="329.5" width="3.2" height="90.5" fill="url(#g59)" opacity="1.00"/><rect x="442.7" y="329.5" width="2.6" height="90.5" fill="url(#g59)" opacity="0.80"/><rect x="447.3" y="329.5" width="2.6" height="90.5" fill="url(#g59)" opacity="0.75"/><rect x="451.7" y="329.5" width="2.6" height="90.5" fill="url(#g59)" opacity="0.75"/></g>
<rect x="442" y="345.5" width="13.5" height="1.2" fill="#032c3c" opacity="0.6"/>
<rect x="442" y="346.5" width="13.5" height="64" fill="url(#g60)"/>
<g clip-path="url(#c61)"><rect x="385.5" y="343.5" width="26.0" height="91.5" fill="url(#g62)"/><rect x="386.0" y="343.5" width="2.6" height="91.5" fill="url(#g63)" opacity="0.80"/><rect x="391.0" y="343.5" width="3.0" height="91.5" fill="url(#g63)" opacity="1.00"/><rect x="395.8" y="343.5" width="2.4" height="91.5" fill="url(#g63)" opacity="0.70"/><rect x="399.5" y="343.5" width="3.0" height="91.5" fill="url(#g63)" opacity="0.90"/><rect x="404.3" y="343.5" width="2.4" height="91.5" fill="url(#g63)" opacity="0.70"/><rect x="408.3" y="343.5" width="2.4" height="91.5" fill="url(#g63)" opacity="0.80"/></g>
<g clip-path="url(#c64)"><rect x="551" y="343" width="22" height="102" fill="url(#g65)"/><rect x="552.4" y="343" width="2.4" height="102" fill="url(#g66)" opacity="0.90"/><rect x="557.7" y="343" width="2.2" height="102" fill="url(#g66)" opacity="0.85"/></g>
<g clip-path="url(#c68)"><rect x="561.3" y="343" width="11.7" height="102" fill="url(#g67)"/></g>
<g clip-path="url(#c69)"><rect x="573" y="368.5" width="18.5" height="76.5" fill="url(#g70)"/><rect x="573.2" y="368.5" width="2.0" height="76.5" fill="url(#g71)" opacity="0.85"/><rect x="577.2" y="368.5" width="2.2" height="76.5" fill="url(#g71)" opacity="1.00"/><rect x="581.1" y="368.5" width="2.2" height="76.5" fill="url(#g71)" opacity="1.00"/><rect x="584.9" y="368.5" width="2.2" height="76.5" fill="url(#g71)" opacity="0.90"/><rect x="588.8" y="368.5" width="2.2" height="76.5" fill="url(#g71)" opacity="0.90"/></g>
<g clip-path="url(#c72)"><rect x="606.5" y="351" width="13.5" height="79" fill="url(#g73)"/><rect x="607.5" y="351" width="2.4" height="79" fill="url(#g74)" opacity="0.90"/><rect x="611.5" y="351" width="2.4" height="79" fill="url(#g74)" opacity="1.00"/><rect x="615.8" y="351" width="2.4" height="79" fill="url(#g74)" opacity="0.90"/></g>
<rect x="478.0" y="376.0" width="1.8" height="109.0" fill="url(#g75)"/>
<rect x="510.5" y="300.0" width="1.6" height="175.0" fill="url(#g76)"/>
<rect x="477.5" y="326.0" width="3.5" height="124.0" fill="url(#g77)"/>
<rect x="527.0" y="392.0" width="5.0" height="93.0" fill="url(#g78)"/>
<rect x="495.0" y="372.0" width="1.8" height="103.0" fill="url(#g79)"/>
<rect x="549.0" y="380.0" width="1.8" height="105.0" fill="url(#g80)"/>
<rect x="601.5" y="380.0" width="1.8" height="114.0" fill="url(#g81)"/>
<rect x="463.0" y="390.0" width="1.5" height="85.0" fill="url(#g82)"/>
<rect x="438.0" y="320.0" width="1.6" height="155.0" fill="url(#g83)"/>
<rect x="445.0" y="296.0" width="1.6" height="104.0" fill="url(#g84)"/>
<rect x="434.0" y="308.0" width="1.4" height="92.0" fill="url(#g85)"/>
<rect x="540.0" y="400.0" width="1.6" height="90.0" fill="url(#g86)"/>
<rect x="585.0" y="405.0" width="1.6" height="85.0" fill="url(#g87)"/>
<rect x="420.0" y="400.0" width="1.6" height="90.0" fill="url(#g88)"/>
<rect x="400.0" y="395.0" width="1.6" height="95.0" fill="url(#g89)"/>
</g>
<rect x="290" y="400" width="330" height="95" fill="url(#g90)"/>
</g>
<path d="M588.8 46.9 L596.1 52.3 L590.6 57.3 L590.6 55" fill="none" stroke="#1689cf" stroke-width="2.9" stroke-linejoin="round" stroke-linecap="round"/>
<path d="M588.3 48 L588.3 54" fill="none" stroke="#5b6678" stroke-width="2.3" stroke-linecap="round"/></svg>
<div class="t logo">Lloyd's List Intelligence</div>
<h1 class="t title" style="top:108px;letter-spacing:0.18px">Construction law in 2022:</h1>
<h1 class="t title" style="top:131px;letter-spacing:0.03px">a review of key legal and</h1>
<h1 class="t title" style="top:153px;letter-spacing:0.34px">industry developments</h1>
<div class="t by">By Mathias Cheung</div>
<div class="t kw" style="top:417px;letter-spacing:-0.175px">Adjudication – Adjudicator’s fees – Breach of natural justice</div>
<div class="t kw" style="top:429px;letter-spacing:-0.21px">– Building Safety Act 2022 – Causation – Concurrent delay</div>
<div class="t kw" style="top:440px;letter-spacing:-0.26px">– Contract – Disclosure – Exclusion clauses – Liability – Limitation</div>
<div class="t kw" style="top:451px;letter-spacing:-0.185px">– Liquidated and ascertained damages – Practice Direction 57AD</div>
<div class="t kw" style="top:462px;letter-spacing:-0.285px">– Technology and Construction Court Guide</div>
</body></html>
